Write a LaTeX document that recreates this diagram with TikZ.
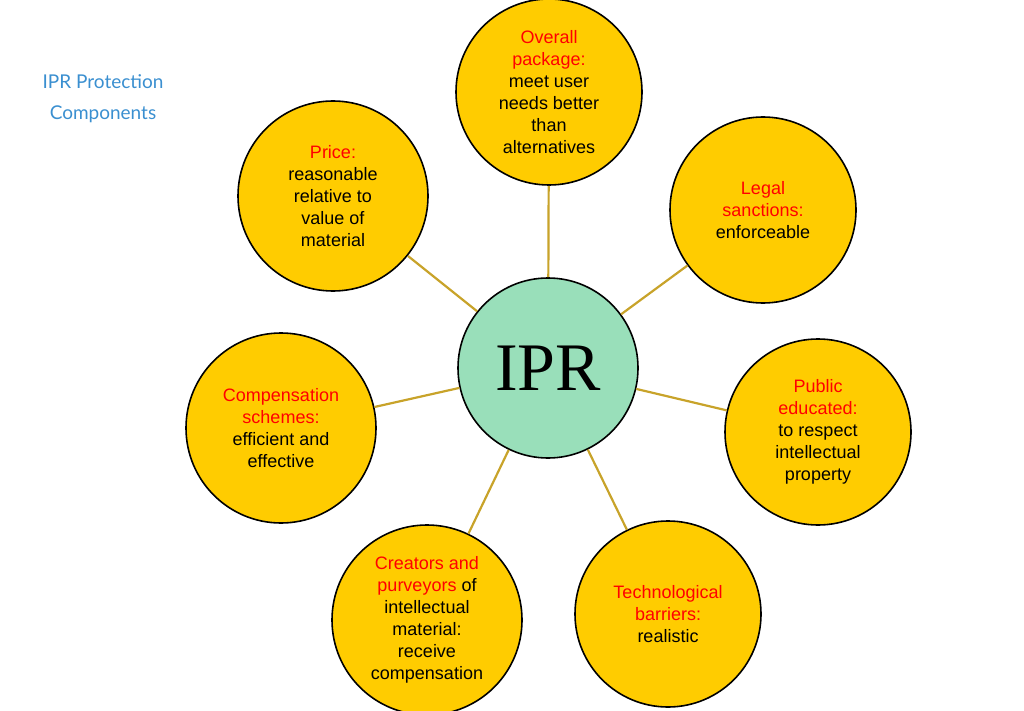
\documentclass[tikz,border=0pt]{standalone}
\usepackage{fontspec}
\setmainfont{Liberation Sans}
\newfontfamily\serif{Liberation Serif}
\newfontfamily\titlef{Lato}
\definecolor{gold}{HTML}{FFCC00}
\definecolor{mint}{HTML}{99DFBA}
\definecolor{linec}{HTML}{C8A32A}
\definecolor{titleblue}{HTML}{3A8FD0}
\begin{document}
\begin{tikzpicture}[x=1pt,y=-1pt,
  outer/.style={circle,draw=black,line width=1.6pt,fill=gold,minimum size=186pt,inner sep=0pt,align=center,
    font=\fontsize{18}{22}\selectfont},
  conn/.style={draw=linec,line width=2.2pt}]
\useasboundingbox (0,0) rectangle (1024,711);
\node[circle,draw=black,line width=1.6pt,fill=mint,minimum size=180pt,font=\serif\fontsize{68}{70}\selectfont] (c) at (548,368) {IPR};
\node[outer] (o1) at (549,92) {\textcolor{red}{Overall}\\\textcolor{red}{package:}\\meet user\\needs better\\than\\alternatives};
\node[outer] (o2) at (763,210) {\textcolor{red}{Legal}\\\textcolor{red}{sanctions:}\\enforceable};
\node[outer] (o3) at (818,432) {\textcolor{red}{Public}\\\textcolor{red}{educated:}\\to respect\\intellectual\\property};
\node[outer] (o4) at (668,614) {\textcolor{red}{Technological}\\\textcolor{red}{barriers:}\\realistic};
\node[outer,minimum size=190pt] (o5) at (427,620) {\textcolor{red}{Creators and}\\\textcolor{red}{purveyors} of\\intellectual\\material:\\receive\\compensation};
\node[outer,minimum size=190pt] (o6) at (281,428) {\textcolor{red}{Compensation}\\\textcolor{red}{schemes:}\\efficient and\\effective};
\node[outer,minimum size=190pt] (o7) at (333,196) {\textcolor{red}{Price:}\\reasonable\\relative to\\value of\\material};
\node[text=titleblue,align=center,font=\titlef\fontsize{19}{31}\selectfont] (t) at (103,99) {IPR Protection\\Components};
\begin{scope}[on background layer/.try]
\end{scope}
\foreach \o in {o1,o2,o3,o4,o5,o6,o7} \path[conn] (c) -- (\o);
\end{tikzpicture}
\end{document}
